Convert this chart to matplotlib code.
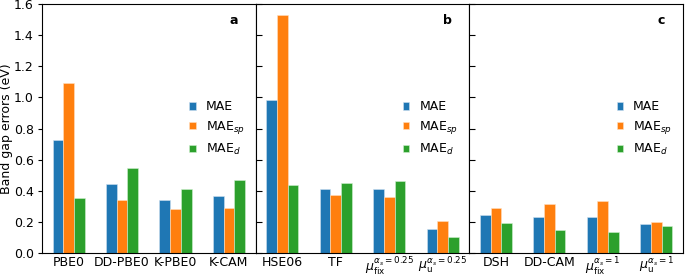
import matplotlib.pyplot as plt
import numpy as np

# panel data
labels_a = ['PBE0', 'DD-PBE0', 'K-PBE0', 'K-CAM']
mae_a = [0.726, 0.445, 0.340, 0.366]
mae_sp_a = [1.096, 0.343, 0.285, 0.291]
mae_d_a = [0.355, 0.547, 0.411, 0.470]

labels_b = ['HSE06', 'TF', r'$\mu_{\rm fix}^{\alpha_s=0.25}$', r'$\mu_{\rm u}^{\alpha_s=0.25}$']
mae_b = [0.983, 0.413, 0.409, 0.153]
mae_sp_b = [1.528, 0.374, 0.357, 0.204]
mae_d_b = [0.436, 0.451, 0.460, 0.102]

labels_c = ['DSH', 'DD-CAM', r'$\mu_{\rm fix}^{\alpha_s=1}$', r'$\mu_{\rm u}^{\alpha_s=1}$']
mae_c = [0.243, 0.232, 0.234, 0.187]
mae_sp_c = [0.291, 0.317, 0.336, 0.202]
mae_d_c = [0.196, 0.147, 0.132, 0.172]

panels = [
    ('a', labels_a, mae_a, mae_sp_a, mae_d_a),
    ('b', labels_b, mae_b, mae_sp_b, mae_d_b),
    ('c', labels_c, mae_c, mae_sp_c, mae_d_c),
]

fs = 9

fig, axes = plt.subplots(1, 3, figsize=(6.85, 2.78), dpi=100, sharey=True)
fig.subplots_adjust(left=0.0613, right=0.997, top=0.985, bottom=0.09, wspace=0)

w = 0.2
for i, (ax, (tag, labs, m, msp, md)) in enumerate(zip(axes, panels)):
    x = np.arange(len(labs))
    ax.bar(x - w, m, w, color='tab:blue', edgecolor='#cfe0f0', linewidth=0.4, label='MAE')
    ax.bar(x, msp, w, color='tab:orange', edgecolor='#ffe0c0', linewidth=0.4, label=r'MAE$_{sp}$')
    ax.bar(x + w, md, w, color='tab:green', edgecolor='#d0f0d0', linewidth=0.4, label=r'MAE$_d$')
    ax.set_xlim(-0.5, 3.5)
    ax.set_ylim(0, 1.6)
    ax.set_xticks(x)
    ax.set_xticklabels(labs, fontsize=fs)
    ax.tick_params(axis='x', length=0, pad=2)
    if i == 0:
        ax.tick_params(axis='y', labelsize=fs, length=3, pad=3)
        ax.set_ylabel('Band gap errors (eV)', fontsize=fs)
        ax.yaxis.set_label_coords(-0.138, 0.5)
    else:
        ax.tick_params(axis='y', direction='in', length=4)
    ax.text(0.897, 0.936, tag, transform=ax.transAxes, fontsize=fs,
            fontweight='bold', ha='center', va='center')
    ax.legend(loc='center left', bbox_to_anchor=(0.69, 0.5), frameon=False,
              fontsize=fs, handlelength=0.5, handleheight=0.5,
              labelspacing=0.45, handletextpad=0.8, borderpad=0, borderaxespad=0)

plt.savefig('out.png', dpi=100)
